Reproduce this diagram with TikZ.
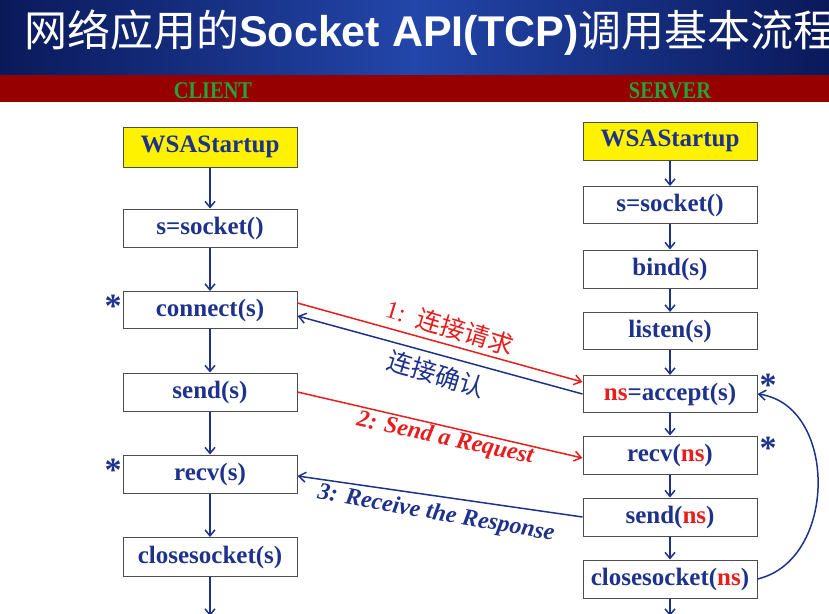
\documentclass[tikz,border=0pt]{standalone}
\usepackage{fontspec}
\setmainfont{Liberation Serif}
\newfontfamily\cjk{Noto Sans CJK SC}
\newfontfamily\hsans{Liberation Sans}
\usetikzlibrary{arrows.meta,calc}
\definecolor{dblue}{RGB}{30,50,140}
\definecolor{ared}{RGB}{230,30,30}
\definecolor{barred}{RGB}{150,0,0}
\definecolor{lgreen}{RGB}{40,160,60}
\definecolor{tdark}{RGB}{10,25,90}
\definecolor{tmid}{RGB}{35,70,170}
\tikzset{
  fbox/.style={draw=black!70,line width=1pt,fill=white,minimum width=174pt,inner sep=0pt,font=\bfseries\fontsize{25}{25}\selectfont,text=dblue},
  flow/.style={draw=dblue,line width=1.5pt,-{Straight Barb[length=6pt,width=10pt]}},
  redarr/.style={draw=ared,line width=1.5pt,-{Straight Barb[length=7pt,width=10pt]}},
  bluearr/.style={draw=dblue,line width=1.5pt,-{Straight Barb[length=7pt,width=10pt]}},
  star/.style={text=dblue,font=\bfseries\fontsize{34}{34}\selectfont},
}
\newcommand{\rd}[1]{\textcolor{ared}{#1}}
\begin{document}
\begin{tikzpicture}[x=1pt,y=-1pt]
\useasboundingbox (0,0) rectangle (829,613);
\shade[left color=tdark,right color=tdark,middle color=tmid] (0,0) rectangle (829,75);
\fill[barred] (0,75) rectangle (829,102);
\node[text=white,anchor=west,font=\fontsize{43}{43}\selectfont,inner sep=0pt] (title) at (24,33) {\cjk 网络应用的{\hsans\bfseries Socket API(TCP)}调用基本流程};
\node[text=lgreen,font=\bfseries\fontsize{24}{24}\selectfont,xscale=0.85] (cl) at (213,91) {CLIENT};
\node[text=lgreen,font=\bfseries\fontsize{24}{24}\selectfont,xscale=0.85] (sv) at (670,91) {SERVER};
% client
\node[fbox,fill=yellow,minimum height=40pt] (c1) at (210,147) {WSAStartup};
\node[fbox,minimum height=38pt] (c2) at (210,228) {s=socket()};
\node[fbox,minimum height=37pt] (c3) at (210,310) {connect(s)};
\node[fbox,minimum height=38pt] (c4) at (210,392) {send(s)};
\node[fbox,minimum height=38pt] (c5) at (210,474) {recv(s)};
\node[fbox,minimum height=39pt] (c6) at (210,557) {closesocket(s)};
\coordinate (cend) at (210,616);
\draw[flow] (c1)--(c2); \draw[flow] (c2)--(c3); \draw[flow] (c3)--(c4);
\draw[flow] (c4)--(c5); \draw[flow] (c5)--(c6); \draw[flow] (c6)--(cend);
% server
\node[fbox,fill=yellow,minimum height=38pt] (s1) at (670,141) {WSAStartup};
\node[fbox,minimum height=37pt] (s2) at (670,205) {s=socket()};
\node[fbox,minimum height=38pt] (s3) at (670,269) {bind(s)};
\node[fbox,minimum height=37pt] (s4) at (670,331) {listen(s)};
\node[fbox,minimum height=37pt] (s5) at (670,394) {\rd{ns}=accept(s)};
\node[fbox,minimum height=38pt] (s6) at (670,455) {recv(\rd{ns})};
\node[fbox,minimum height=38pt] (s7) at (670,517) {send(\rd{ns})};
\node[fbox,minimum height=38pt] (s8) at (670,579) {closesocket(\rd{ns})};
\coordinate (send) at (670,616);
\draw[flow] (s1)--(s2); \draw[flow] (s2)--(s3); \draw[flow] (s3)--(s4);
\draw[flow] (s4)--(s5); \draw[flow] (s5)--(s6); \draw[flow] (s6)--(s7);
\draw[flow] (s7)--(s8); \draw[flow] (s8)--(send);
% messages
\draw[redarr] ($(c3.east)+(0,-7)$) -- ($(s5.west)+(0,-12)$);
\draw[bluearr] ($(s5.west)+(0,0)$) -- ($(c3.east)+(0,6)$);
\node[text=ared,rotate=-17,font=\fontsize{25}{25}\selectfont] (l1) at (450,327) {1:\ \ {\cjk 连接请求}};
\node[text=dblue,rotate=-17,font=\fontsize{25}{25}\selectfont] (l2) at (436,374) {\cjk 连接确认};
\draw[redarr] (c4.east) -- ($(s6.west)+(0,3)$);
\node[text=ared,rotate=-12,font=\bfseries\itshape\fontsize{24}{24}\selectfont] (l3) at (445,439) {2: Send a Request};
\draw[bluearr] (s7.west) -- ($(c5.east)+(0,2)$);
\node[text=dblue,rotate=-10,font=\bfseries\itshape\fontsize{24}{24}\selectfont] (l4) at (436,514) {3: Receive the Response};
\draw[bluearr] (s8.east) .. controls (838,560) and (838,405) .. (s5.east);
% stars
\node[star] (st1) at (113,306) {*};
\node[star] (st2) at (113,470) {*};
\node[star] (st3) at (768,385) {*};
\node[star] (st4) at (768,448) {*};
\end{tikzpicture}
\end{document}
